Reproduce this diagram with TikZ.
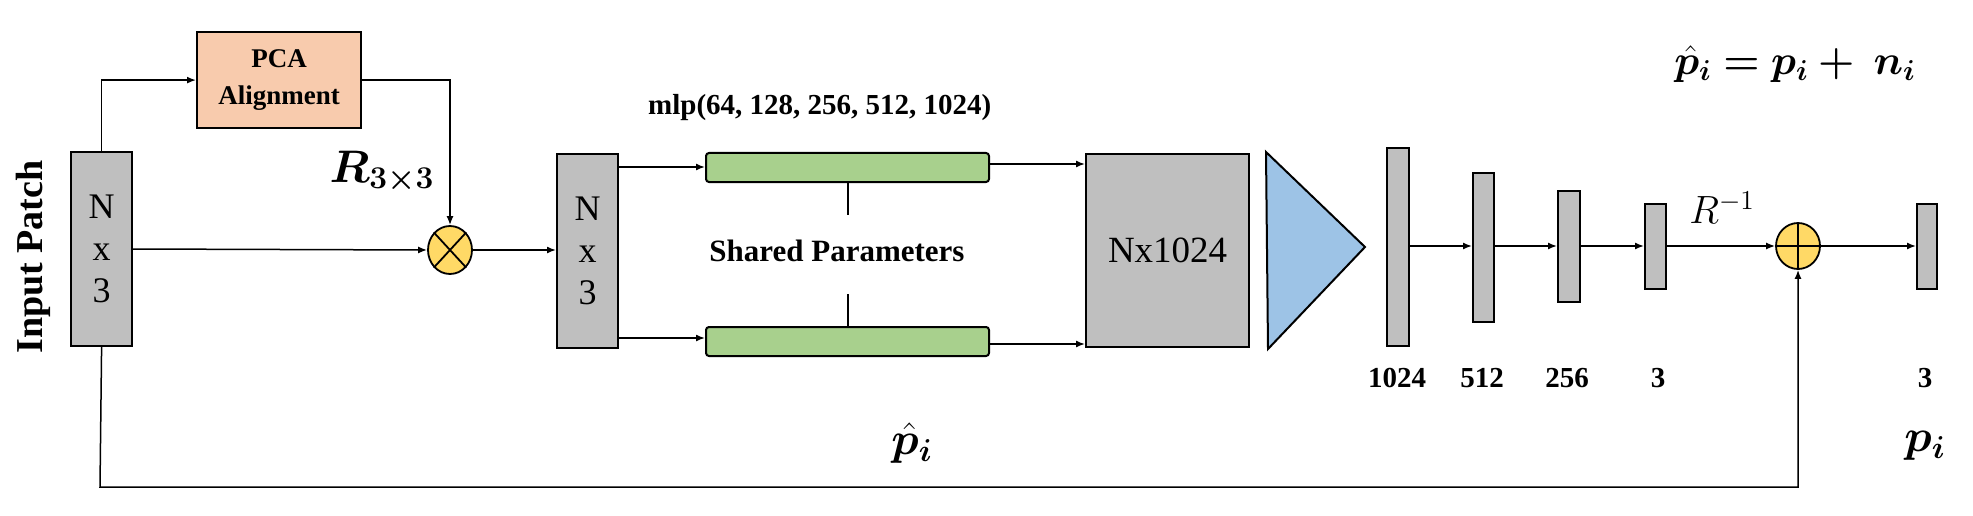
\documentclass[tikz,border=0pt]{standalone}
\usepackage{graphicx}
\usepackage{amsmath,bm}
\usepackage{fontspec}
\setmainfont{Liberation Serif}[BoldFont={Liberation Serif Bold}]
\usetikzlibrary{arrows.meta,shapes.geometric}
\newcommand{\bigmath}[2]{\scalebox{#1}{\fontsize{20}{20}\selectfont$#2$}}
\begin{document}
\begin{tikzpicture}[x=1pt,y=-1pt,
  gbox/.style={draw,line width=2.2pt,fill=gray!50},
  gbar/.style={draw,line width=2pt,rounded corners=3pt,fill={rgb,255:red,168;green,208;blue,141}},
  ar/.style={line width=1.5pt,-{Latex[length=9pt,width=7pt]}},
  ln/.style={line width=1.5pt},
  lbl/.style={font=\fontsize{29}{29}\selectfont\bfseries},
  nx3/.style={gbox,minimum width=61pt,minimum height=194pt,anchor=north west,align=center,font=\fontsize{36}{42}\selectfont,inner sep=0}]
\useasboundingbox (0,0) rectangle (1973,516);
% boxes
\node[nx3] (in) at (70,151) {N\\x\\3};
\node[draw,line width=2.2pt,fill={rgb,255:red,248;green,203;blue,173},minimum width=164pt,minimum height=96pt,anchor=north west,align=center,font=\fontsize{27}{37}\selectfont\bfseries,inner sep=0] (pca) at (196,31) {PCA\\Alignment};
\node[draw,line width=1.8pt,fill={rgb,255:red,255;green,217;blue,102},ellipse,minimum width=44pt,minimum height=48pt,inner sep=0] (mul) at (450,250) {};
\draw[line width=1.8pt] (mul.north east)--(mul.south west) (mul.north west)--(mul.south east);
\node[nx3] (b2) at (556,153) {N\\x\\3};
\node[gbar,minimum width=283pt,minimum height=29pt,anchor=north west] (g1) at (705,152) {};
\node[gbar,minimum width=283pt,minimum height=29pt,anchor=north west] (g2) at (705,326) {};
\node[gbox,minimum width=163pt,minimum height=193pt,anchor=north west,font=\fontsize{37}{37}\selectfont] (nx) at (1085,153) {Nx1024};
\draw[line width=2pt,fill={rgb,255:red,157;green,195;blue,230}] (1266,152) coordinate (t1) -- (1365,247) coordinate (tip) -- (1268,349) -- cycle;
\node[gbox,minimum width=22pt,minimum height=198pt,anchor=north west] (f1) at (1386,147) {};
\node[gbox,minimum width=21pt,minimum height=149pt,anchor=north west] (f2) at (1472,172) {};
\node[gbox,minimum width=22pt,minimum height=111pt,anchor=north west] (f3) at (1557,190) {};
\node[gbox,minimum width=21pt,minimum height=85pt,anchor=north west] (f4) at (1644,203) {};
\node[draw,line width=1.8pt,fill={rgb,255:red,255;green,217;blue,102},ellipse,minimum width=44pt,minimum height=46pt,inner sep=0] (add) at (1798,246) {};
\draw[line width=1.8pt] (add.north)--(add.south) (add.west)--(add.east);
\node[gbox,minimum width=20pt,minimum height=85pt,anchor=north west] (f5) at (1916,203) {};
% connectors
\draw[ar] (in.north) |- (pca.west);
\draw[ar] (pca.east) -| (mul.north);
\draw[ar] (in.east |- 0,249) -- (mul.west);
\draw[ar] (mul.east) -- (b2.west |- mul.east);
\draw[ar] (b2.east |- 0,167) -- (g1.west |- 0,167);
\draw[ar] (b2.east |- 0,338) -- (g2.west |- 0,338);
\draw[ar] (g1.east |- 0,164) -- (nx.west |- 0,164);
\draw[ar] (g2.east |- 0,344) -- (nx.west |- 0,344);
\draw[ln] (848,181) -- (848,215);
\draw[ln] (848,294) -- (848,326);
\draw[ar] (f1.east |- 0,246) -- (f2.west |- 0,246);
\draw[ar] (f2.east |- 0,246) -- (f3.west |- 0,246);
\draw[ar] (f3.east |- 0,246) -- (f4.west |- 0,246);
\draw[ar] (f4.east |- 0,246) -- (add.west);
\draw[ar] (add.east) -- (f5.west |- add.east);
\coordinate (bl) at (100,487);
\draw[ar] (in.south) -- (bl) -| (add.south);
% labels
\node[rotate=90,font=\fontsize{38}{38}\selectfont\bfseries] (ip) at (33,257) {Input Patch};
\node[font=\fontsize{31}{31}\selectfont\bfseries] (sp) at (837,251) {Shared Parameters};
\node[lbl,anchor=west,inner sep=0] (mlp) at (648,108) {mlp(64, 128, 256, 512, 1024)};
\node[lbl] (l1) at (1397,378) {1024};
\node[lbl] (l2) at (1482,378) {512};
\node[lbl] (l3) at (1567,378) {256};
\node[lbl] (l4) at (1658,378) {3};
\node[lbl] (l5) at (1925,378) {3};
\node (r33) at (382,172) {\bigmath{2.2}{\bm{R_{3\times3}}}};
\node (rinv) at (1722,208) {\bigmath{1.9}{R^{-1}}};
\node (ph) at (912,443) {\bigmath{2.2}{\bm{\hat{p}_i}}};
\node (pi) at (1925,446) {\bigmath{2.2}{\bm{p_i}}};
\node (eq) at (1795,64) {\bigmath{2.0}{\bm{\hat{p}_i = p_i +\ n_i}}};
\end{tikzpicture}
\end{document}
